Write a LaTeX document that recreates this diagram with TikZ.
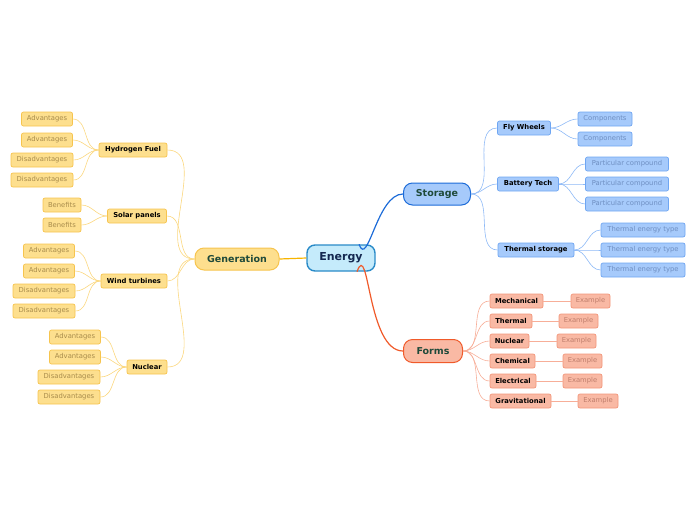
\documentclass[tikz,border=0pt]{standalone}
\usepackage{fontspec}
\setmainfont{DejaVu Sans}
\usetikzlibrary{calc}
\definecolor{gfill}{HTML}{FDDF8E}\definecolor{gline}{HTML}{F6C44E}\definecolor{gtxt}{HTML}{A88C4C}\definecolor{gcon}{HTML}{FBD77E}
\definecolor{sfill}{HTML}{A6CAFB}\definecolor{sline}{HTML}{6FA6F2}\definecolor{stxt}{HTML}{6F8FC2}\definecolor{scon}{HTML}{8DB9F6}
\definecolor{ffill}{HTML}{F9B9A4}\definecolor{fline}{HTML}{F2967A}\definecolor{ftxt}{HTML}{BF7E6C}\definecolor{fcon}{HTML}{F7AE98}
\definecolor{efill}{HTML}{C5EBFB}\definecolor{eline}{HTML}{2A8BC8}\definecolor{etxt}{HTML}{142850}
\definecolor{gmain}{HTML}{F7B400}\definecolor{smain}{HTML}{1C6BD8}\definecolor{fmain}{HTML}{F05A2A}
\definecolor{mtxt}{HTML}{1F4A3A}
\begin{document}
\begin{tikzpicture}[x=1pt,y=-1pt,
 box/.style={rounded corners=2pt,inner sep=0pt,minimum height=14pt,line width=0.7pt,align=center},
 gsub/.style={box,fill=gfill,draw=gline,font=\bfseries\fontsize{6.8}{8}\selectfont},
 gleaf/.style={box,fill=gfill,draw=gline,text=gtxt,font=\fontsize{6.8}{8}\selectfont},
 ssub/.style={box,fill=sfill,draw=sline,font=\bfseries\fontsize{6.8}{8}\selectfont},
 sleaf/.style={box,fill=sfill,draw=sline,text=stxt,font=\fontsize{6.8}{8}\selectfont},
 fsub/.style={box,fill=ffill,draw=fline,font=\bfseries\fontsize{6.8}{8}\selectfont},
 fleaf/.style={box,fill=ffill,draw=fline,text=ftxt,font=\fontsize{6.8}{8}\selectfont},
 main/.style={rounded corners=9pt,inner sep=0pt,minimum height=22pt,line width=1pt,text=mtxt,font=\bfseries\fontsize{9.5}{11}\selectfont},
 gc/.style={gcon,line width=0.6pt}, sc/.style={scon,line width=0.6pt}, fc/.style={fcon,line width=0.6pt}]
\useasboundingbox (0,0) rectangle (696,520);
% main nodes
\node[main,minimum width=68pt,minimum height=26pt,fill=efill,draw=eline,line width=1.4pt,text=etxt,font=\bfseries\fontsize{11}{13}\selectfont,rounded corners=8pt] (en) at (341,258) {Energy};
\node[main,minimum width=84pt,fill=gfill,draw=gline] (gen) at (237,259) {Generation};
\node[main,minimum width=67pt,fill=sfill,draw=smain] (sto) at (437,194) {Storage};
\node[main,minimum width=59pt,minimum height=23pt,fill=ffill,draw=fmain] (frm) at (433,351) {Forms};
\draw[gmain,line width=1.2pt] (en.west) -- (gen.east);
\draw[smain,line width=1.2pt] ($(en.north)+(18,0)$) to[out=-70,in=180] (sto.west);
\draw[fmain,line width=1.2pt] ($(en.south)+(16,0)$) to[out=70,in=180] (frm.west);
% generation
\node[gsub,minimum width=68pt] (hf) at (133,150) {Hydrogen Fuel};
\node[gsub,minimum width=59pt] (sp) at (137,216) {Solar panels};
\node[gsub,minimum width=66pt] (wt) at (134,281) {Wind turbines};
\node[gsub,minimum width=40pt] (nu) at (147,367) {Nuclear};
\foreach \c in {hf,sp,wt,nu} \draw[gc] (gen.west) to[out=180,in=0] (\c.east);
\node[gleaf,minimum width=51pt] (h1) at (47,119) {Advantages};
\node[gleaf,minimum width=51pt] (h2) at (47,140) {Advantages};
\node[gleaf,minimum width=62pt] (h3) at (42,160) {Disadvantages};
\node[gleaf,minimum width=62pt] (h4) at (42,180) {Disadvantages};
\node[gleaf,minimum width=38pt] (s1) at (62,205) {Benefits};
\node[gleaf,minimum width=38pt] (s2) at (62,225) {Benefits};
\node[gleaf,minimum width=51pt] (w1) at (49,251) {Advantages};
\node[gleaf,minimum width=51pt] (w2) at (49,271) {Advantages};
\node[gleaf,minimum width=62pt] (w3) at (44,291) {Disadvantages};
\node[gleaf,minimum width=62pt] (w4) at (44,311) {Disadvantages};
\node[gleaf,minimum width=51pt] (n1) at (75,337) {Advantages};
\node[gleaf,minimum width=51pt] (n2) at (75,357) {Advantages};
\node[gleaf,minimum width=62pt] (n3) at (69,377) {Disadvantages};
\node[gleaf,minimum width=62pt] (n4) at (69,397) {Disadvantages};
\foreach \p/\c in {hf/h1,hf/h2,hf/h3,hf/h4,sp/s1,sp/s2,wt/w1,wt/w2,wt/w3,wt/w4,nu/n1,nu/n2,nu/n3,nu/n4}
  \draw[gc] (\p.west) to[out=180,in=0] (\c.east);
% storage
\node[ssub,minimum width=53pt] (fw) at (524,128) {Fly Wheels};
\node[ssub,minimum width=61pt] (bt) at (528,184) {Battery Tech};
\node[ssub,minimum width=76pt] (ts) at (536,250) {Thermal storage};
\foreach \c in {fw,bt,ts} \draw[sc] (sto.east) to[out=0,in=180] (\c.west);
\node[sleaf,minimum width=54pt] (c1) at (605,119) {Components};
\node[sleaf,minimum width=54pt] (c2) at (605,139) {Components};
\node[sleaf,minimum width=83pt] (p1) at (627,164) {Particular compound};
\node[sleaf,minimum width=83pt] (p2) at (627,184) {Particular compound};
\node[sleaf,minimum width=83pt] (p3) at (627,204) {Particular compound};
\node[sleaf,minimum width=84pt] (t1) at (643,230) {Thermal energy type};
\node[sleaf,minimum width=84pt] (t2) at (643,250) {Thermal energy type};
\node[sleaf,minimum width=84pt] (t3) at (643,270) {Thermal energy type};
\foreach \p/\c in {fw/c1,fw/c2,bt/p1,bt/p2,bt/p3,ts/t1,ts/t2,ts/t3}
  \draw[sc] (\p.east) to[out=0,in=180] (\c.west);
% forms
\node[fsub,minimum width=53pt] (m1) at (516.5,301) {Mechanical};
\node[fsub,minimum width=42pt] (m2) at (511,321) {Thermal};
\node[fsub,minimum width=39pt] (m3) at (509.5,341) {Nuclear};
\node[fsub,minimum width=45pt] (m4) at (512.5,361) {Chemical};
\node[fsub,minimum width=46pt] (m5) at (513,381) {Electrical};
\node[fsub,minimum width=61pt] (m6) at (520.5,401) {Gravitational};
\node[fleaf,minimum width=39pt] (e1) at (590.5,301) {Example};
\node[fleaf,minimum width=39pt] (e2) at (578.5,321) {Example};
\node[fleaf,minimum width=39pt] (e3) at (576.5,341) {Example};
\node[fleaf,minimum width=39pt] (e4) at (582.5,361) {Example};
\node[fleaf,minimum width=39pt] (e5) at (582.5,381) {Example};
\node[fleaf,minimum width=40pt] (e6) at (598,401) {Example};
\foreach \i in {1,...,6} {
  \draw[fc] (frm.east) to[out=0,in=180] (m\i.west);
  \draw[fc] (m\i.east) -- (e\i.west);}
\end{tikzpicture}
\end{document}
